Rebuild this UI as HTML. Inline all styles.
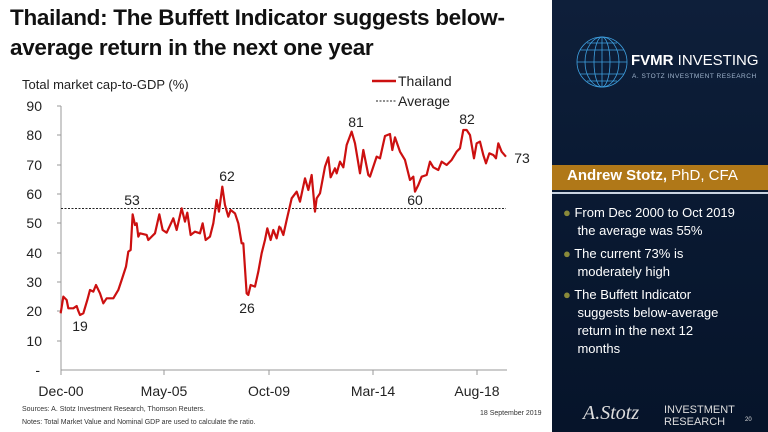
<!DOCTYPE html>
<html><head><meta charset="utf-8"><style>
body{margin:0;width:768px;height:432px;overflow:hidden;background:#fff;font-family:"Liberation Sans",sans-serif;position:relative}
.t{position:absolute;white-space:nowrap}
.b{color:#8a8a3a}
</style></head><body>
<div class="t" style="left:10px;top:3px;font-size:22.5px;font-weight:bold;line-height:30px;color:#111;letter-spacing:-0.3px">Thailand: The Buffett Indicator suggests below-<br>average return in the next one year</div>
<div style="position:absolute;left:552px;top:0;width:216px;height:432px;background:linear-gradient(180deg,#0e1f3a 0%,#0a1a33 40%,#06142a 100%)"></div>
<div style="position:absolute;left:552px;top:165px;width:216px;height:25px;background:#b07818"></div>
<div style="position:absolute;left:552px;top:192px;width:216px;height:2px;background:#c9d3e0"></div>
<div class="t" style="left:567px;top:167px;font-size:15px;color:#fff"><b>Andrew Stotz,</b> PhD, CFA</div>
<svg style="position:absolute;left:575px;top:35px" width="54" height="54" viewBox="0 0 54 54" fill="none" stroke="#3ea0e0" stroke-width="0.8"><circle cx="27" cy="27" r="25"/><ellipse cx="27" cy="27" rx="8" ry="25"/><ellipse cx="27" cy="27" rx="17" ry="25"/><line x1="27" y1="2" x2="27" y2="52"/><line x1="2" y1="27" x2="52" y2="27"/><line x1="5" y1="15" x2="49" y2="15"/><line x1="5" y1="39" x2="49" y2="39"/><line x1="12" y1="8" x2="42" y2="8"/><line x1="12" y1="46" x2="42" y2="46"/></svg>
<div class="t" style="left:631px;top:52px;font-size:15px;color:#fff"><b>FVMR</b> INVESTING</div>
<div class="t" style="left:632px;top:73px;font-size:6.5px;color:#9fb4cc;letter-spacing:.5px">A. STOTZ INVESTMENT RESEARCH</div>
<div class="t" style="left:563px;top:204px;font-size:13px;line-height:18px;color:#fff">
<div><span class="b">●</span> From Dec 2000 to Oct 2019<br>&nbsp;&nbsp;&nbsp;&nbsp;the average was 55%</div>
<div style="margin-top:5px"><span class="b">●</span> The current 73% is<br>&nbsp;&nbsp;&nbsp;&nbsp;moderately high</div>
<div style="margin-top:5px"><span class="b">●</span> The Buffett Indicator<br>&nbsp;&nbsp;&nbsp;&nbsp;suggests below-average<br>&nbsp;&nbsp;&nbsp;&nbsp;return in the next 12<br>&nbsp;&nbsp;&nbsp;&nbsp;months</div></div>
<div class="t" style="left:583px;top:402px;font-size:20px;font-style:italic;color:#ddd;font-family:'Liberation Serif',serif">A.Stotz</div>
<div class="t" style="left:664px;top:404px;font-size:11px;line-height:12px;color:#ddd">INVESTMENT<br>RESEARCH</div>
<div class="t" style="left:745px;top:417px;font-size:6px;color:#ddd">20</div>
<div class="t" style="left:22px;top:77px;font-size:13px;color:#222">Total market cap-to-GDP (%)</div>
<svg style="position:absolute;left:0;top:0" width="552" height="432">
<g font-size="14" fill="#222" text-anchor="end" font-family="Liberation Sans">
<text x="42" y="111">90</text><text x="42" y="140">80</text><text x="42" y="170">70</text><text x="42" y="199">60</text><text x="42" y="228">50</text><text x="42" y="258">40</text><text x="42" y="287">30</text><text x="42" y="316">20</text><text x="42" y="346">10</text><text x="40" y="375">-</text></g>
<g stroke="#999" stroke-width="1"><line x1="61" y1="106" x2="61" y2="370"/><line x1="61" y1="370" x2="507" y2="370"/>
<line x1="57" y1="106" x2="61" y2="106"/><line x1="57" y1="135" x2="61" y2="135"/><line x1="57" y1="165" x2="61" y2="165"/><line x1="57" y1="194" x2="61" y2="194"/><line x1="57" y1="223" x2="61" y2="223"/><line x1="57" y1="253" x2="61" y2="253"/><line x1="57" y1="282" x2="61" y2="282"/><line x1="57" y1="311" x2="61" y2="311"/><line x1="57" y1="341" x2="61" y2="341"/>
<line x1="61" y1="370" x2="61" y2="375"/><line x1="164" y1="370" x2="164" y2="375"/><line x1="269" y1="370" x2="269" y2="375"/><line x1="373" y1="370" x2="373" y2="375"/><line x1="477" y1="370" x2="477" y2="375"/></g>
<g font-size="14" fill="#222" text-anchor="middle"><text x="61" y="396">Dec-00</text><text x="164" y="396">May-05</text><text x="269" y="396">Oct-09</text><text x="373" y="396">Mar-14</text><text x="477" y="396">Aug-18</text></g>
<line x1="61" y1="208.5" x2="506" y2="208.5" stroke="#222" stroke-width="1" stroke-dasharray="2,1.5"/>
<g fill="none" stroke="#cc1010" stroke-width="2.2" stroke-linejoin="round">
<polyline vector-effect="non-scaling-stroke" transform="translate(0,80) scale(0.3333)" points="182,700 190,650 200,660 205,685 220,685 230,678 235,693 240,705 250,700 262,660 270,630 280,635 288,615 300,640 310,670 320,655 340,655 355,630 365,600 378,560 385,515 392,510 398,403 405,435 410,430 415,470 420,460 440,465 445,480 455,470 465,460 478,403 488,450 500,458 520,415 530,450 545,385 555,425 562,398 572,465 585,455 600,460 608,430 617,480 630,470 640,430 650,360 657,395 667,320 675,375 685,410 692,390 705,400 715,430 725,490 730,490 740,640 745,645 752,615 765,620 775,575 785,520 795,480 802,445 812,480 820,450 830,475 838,440 840,440"/>
<polyline vector-effect="non-scaling-stroke" transform="translate(280,80) scale(0.3333)" points="0,440 10,465 20,420 35,355 50,335 60,365 75,295 85,330 95,285 105,395 110,355 120,340 135,260 145,232 152,292 165,265 170,280 180,245 190,262 200,195 215,155 225,190 240,280 250,210 265,285 270,290 290,230 300,235 315,168 330,162 337,210 345,172 360,215 375,240 390,300 400,290 405,335 415,315 425,290 440,285 450,245 460,262 475,270 485,245 500,255 515,240 530,215 540,205 550,150 560,150 570,165 582,235 590,190 600,185 610,225 618,250 628,220 640,225 648,235 655,190 665,215 678,230"/>
</g>
<g font-size="14" fill="#222" text-anchor="middle"><text x="80" y="331">19</text><text x="132" y="205">53</text><text x="227" y="181">62</text><text x="247" y="313">26</text><text x="356" y="127">81</text><text x="415" y="205">60</text><text x="467" y="124">82</text><text x="522" y="163">73</text></g>
<line x1="372" y1="81" x2="396" y2="81" stroke="#cc1010" stroke-width="2.5"/>
<text x="398" y="86" font-size="14" fill="#222">Thailand</text>
<line x1="376" y1="101" x2="396" y2="101" stroke="#222" stroke-width="1" stroke-dasharray="2,1.5"/>
<text x="398" y="106" font-size="14" fill="#222">Average</text>
</svg>
<div class="t" style="left:22px;top:406px;font-size:7px;color:#333">Sources: A. Stotz Investment Research, Thomson Reuters.</div>
<div class="t" style="left:22px;top:419px;font-size:7px;color:#333">Notes: Total Market Value and Nominal GDP are used to calculate the ratio.</div>
<div class="t" style="left:480px;top:410px;font-size:7px;color:#333">18 September 2019</div>
</body></html>
